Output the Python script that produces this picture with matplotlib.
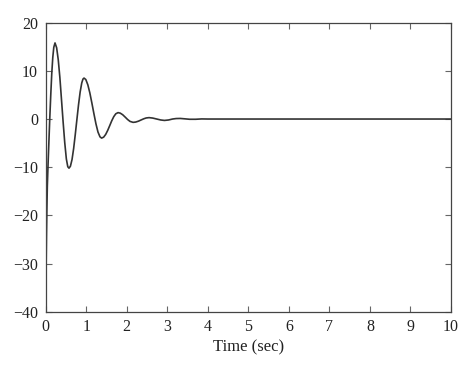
import matplotlib
matplotlib.use("Agg")
import matplotlib.pyplot as plt

# response (time in sec, amplitude)
time_s = [0.0, 0.01, 0.02, 0.03, 0.04, 0.06, 0.08, 0.10, 0.125, 0.15, 0.175,
          0.20, 0.23, 0.27, 0.31, 0.35, 0.39, 0.43, 0.47, 0.51, 0.545, 0.575,
          0.61, 0.65, 0.69, 0.73, 0.77, 0.81, 0.85, 0.89, 0.92, 0.946,
          0.99, 1.04, 1.09, 1.14, 1.19, 1.24, 1.29, 1.34, 1.38,
          1.43, 1.48, 1.53, 1.58, 1.63, 1.68, 1.73, 1.785,
          1.84, 1.90, 1.96, 2.02, 2.08, 2.156,
          2.22, 2.29, 2.35, 2.42, 2.48, 2.55,
          2.64, 2.74, 2.84, 2.93, 3.03, 3.13, 3.22, 3.32, 3.42, 3.55, 3.70,
          3.85, 4.0, 10.0]
response = [-40.0, -31.0, -24.0, -18.5, -14.0, -9.0, -4.5, 0.0, 5.0, 9.5, 12.8,
            14.9, 15.8, 14.8, 12.3, 8.6, 4.0, -0.6, -4.9, -8.3, -9.9, -10.2,
            -9.8, -8.4, -6.1, -3.2, -0.1, 2.95, 5.6, 7.5, 8.3, 8.5,
            8.2, 7.1, 5.4, 3.3, 1.1, -1.0, -2.7, -3.7, -3.96,
            -3.76, -3.2, -2.36, -1.37, -0.36, 0.5, 1.09, 1.33,
            1.22, 0.89, 0.41, -0.09, -0.49, -0.69,
            -0.63, -0.44, -0.21, 0.05, 0.22, 0.29,
            0.2, 0.0, -0.2, -0.29, -0.2, 0.0, 0.1, 0.12, 0.05, -0.05, -0.05,
            0.02, 0.0, 0.0]

x_ticks = list(range(0, 11))
y_ticks = [-40, -30, -20, -10, 0, 10, 20]

plt.rcParams["font.family"] = ["Liberation Serif", "DejaVu Serif"]

fig = plt.figure(figsize=(4.74, 3.69), dpi=100)
ax = fig.add_axes([0.0964, 0.1553, 0.855, 0.7832])

ax.plot(time_s, response, color="#333333", linewidth=1.2)

ax.set_xlim(0, 10)
ax.set_ylim(-40, 20)
ax.set_xticks(x_ticks)
ax.set_yticks(y_ticks)
ax.tick_params(direction="in", length=4, width=0.8, color="#666666",
               labelsize=11.5, top=True, right=True, pad=5.5, labelcolor="#222222")
for sp in ax.spines.values():
    sp.set_color("#444444")
    sp.set_linewidth(0.9)

ax.set_xlabel("Time (sec)", fontsize=12, color="#222222", labelpad=3)

fig.savefig("out.png", dpi=100)
